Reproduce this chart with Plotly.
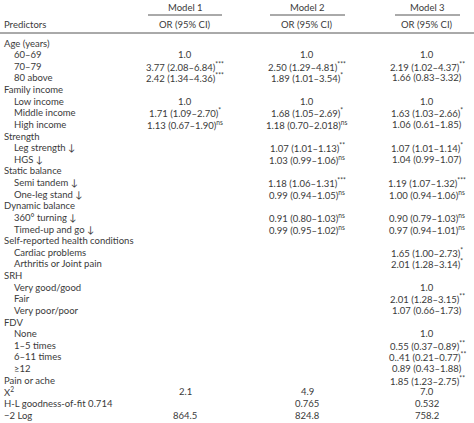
import plotly.graph_objects as go

predictors = ["Age (years)", "60–69", "70–79", "80 above", "Family income", "Low income", "Middle income",
              "High income", "Strength", "Leg strength ↓", "HGS ↓", "Static balance", "Semi tandem ↓",
              "One-leg stand ↓", "Dynamic balance", "360° turning ↓", "Timed-up and go ↓",
              "Self-reported health conditions", "Cardiac problems", "Arthritis or Joint pain", "SRH",
              "Very good/good", "Fair", "Very poor/poor", "FDV", "None", "1–5 times", "6–11 times", "≥12",
              "Pain or ache", "X<sup>2</sup>", "H-L goodness-of-fit 0.714", "−2 Log"]
indent = [0,1,1,1,0,1,1,1,0,1,1,0,1,1,0,1,1,0,1,1,0,1,1,1,0,1,1,1,1,0,0,0,0]
model1 = ["", "1.0", "3.77 (2.08–6.84)***", "2.42 (1.34–4.36)***", "", "1.0", "1.71 (1.09–2.70)*",
          "1.13 (0.67–1.90)ns", "", "", "", "", "", "", "", "", "", "", "", "", "", "", "", "", "", "",
          "", "", "", "", "2.1", "", "864.5"]
model2 = ["", "1.0", "2.50 (1.29–4.81)***", "1.89 (1.01–3.54)*", "", "1.0", "1.68 (1.05–2.69)*",
          "1.18 (0.70–2.018)ns", "", "1.07 (1.01–1.13)**", "1.03 (0.99–1.06)ns", "", "1.18 (1.06–1.31)***",
          "0.99 (0.94–1.05)ns", "", "0.91 (0.80–1.03)ns", "0.99 (0.95–1.02)ns", "", "", "", "", "", "", "",
          "", "", "", "", "", "", "4.9", "0.765", "824.8"]
model3 = ["", "1.0", "2.19 (1.02–4.37)**", "1.66 (0.83–3.32)", "", "1.0", "1.63 (1.03–2.66)*",
          "1.06 (0.61–1.85)", "", "1.07 (1.01–1.14)*", "1.04 (0.99–1.07)", "", "1.19 (1.07–1.32)***",
          "1.00 (0.94–1.06)ns", "", "0.90 (0.79–1.03)ns", "0.97 (0.94–1.01)ns", "", "1.65 (1.00–2.73)*",
          "2.01 (1.28–3.14)*", "", "1.0", "2.01 (1.28–3.15)**", "1.07 (0.66–1.73)", "", "1.0",
          "0.55 (0.37–0.89)**", "0..41 (0.21–0.77)**", "0.89 (0.43–1.88)", "1.85 (1.23–2.75)**",
          "7.0", "0.532", "758.2"]
models = ["Model 1", "Model 2", "Model 3"]

def fmt(s):
    for suf in ["***", "**", "*", "ns"]:
        if s.endswith(suf):
            return s[:-len(suf)] + "<sup>" + suf + "</sup>"
    return s

col = "#3a3a3a"
fnt = dict(family="Lato, Open Sans, sans-serif", size=9.5, color=col)
fig = go.Figure()
ann = []
centers = [185, 307, 427]
for c, m in zip(centers, models):
    ann.append(dict(x=c, y=7, text=m))
    ann.append(dict(x=c, y=24, text="OR (95% CI)"))
ann.append(dict(x=2, y=24, text="Predictors", xanchor="left"))
y0, dy = 43, 11.625
for i, p in enumerate(predictors):
    y = y0 + i * dy
    ann.append(dict(x=2 + 10 * indent[i], y=y, text=p, xanchor="left"))
    for c, arr in zip(centers, [model1, model2, model3]):
        if arr[i]:
            ann.append(dict(x=c, y=y, text=fmt(arr[i])))
for a in ann:
    a.setdefault("xanchor", "center")
    a.update(xref="x", yref="y", showarrow=False, yanchor="middle", font=fnt)
shapes = [dict(type="line", x0=0, x1=474, y0=33, y1=33, line=dict(color="#555", width=1))]
for a, b in [(148, 222), (270, 345), (395, 460)]:
    shapes.append(dict(type="line", x0=a, x1=b, y0=15, y1=15, line=dict(color="#555", width=1)))
fig.update_layout(width=474, height=423, margin=dict(l=0, r=0, t=0, b=0),
                  paper_bgcolor="white", plot_bgcolor="white", annotations=ann, shapes=shapes,
                  xaxis=dict(range=[0, 474], visible=False, fixedrange=True),
                  yaxis=dict(range=[423, 0], visible=False, fixedrange=True), showlegend=False)
fig.write_html("out.html", config=dict(displayModeBar=False),
               post_script="document.body.style.margin='0';document.body.style.overflow='hidden';")
